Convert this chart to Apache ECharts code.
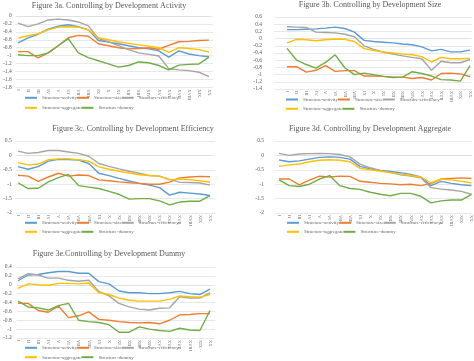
<!DOCTYPE html>
<html><head><meta charset="utf-8">
<script src="https://cdn.jsdelivr.net/npm/echarts@6/dist/echarts.min.js"></script>
<style>html,body{margin:0;padding:0;background:#fff}#c{width:474px;height:361px}</style>
</head><body><div id="c"></div>
<script>
const categories = ['I','II','III','IV','V','VI','VII','VIII','IX','X','XI','XII','XIII','XIV','XV','XVI','XVII','XVIII','XIX','XX'];
const seriesNames = ['Structure-activity','Structure-size','Structure-efficiency','Structure-aggregate','Structure-dummy'];
const titles = ['Figure 3a. Controlling by Development Activity','Figure 3b. Controlling by Development Size','Figure 3c. Controlling by Development Efficiency','Figure 3d. Controlling by Development Aggregate','Figure 3e.Controlling by Development Dummy'];
const yMin = [-1.8,-1.4,-2,-2,-1.2];
const yMax = [0,0.6,0.5,0.5,0.4];
const yStep = [0.2,0.2,0.5,0.5,0.2];

const aActivity = [-0.68,-0.55,-0.46,-0.33,-0.26,-0.22,-0.27,-0.35,-0.62,-0.66,-0.7,-0.75,-0.8,-0.83,-0.88,-1.04,-0.88,-0.96,-1.0,-1.03];
const aSize = [-0.9,-0.9,-1.06,-0.93,-0.75,-0.55,-0.49,-0.51,-0.7,-0.75,-0.8,-0.83,-0.82,-0.8,-0.84,-0.74,-0.65,-0.64,-0.62,-0.61];
const aEfficiency = [-0.18,-0.27,-0.2,-0.1,-0.08,-0.1,-0.15,-0.25,-0.57,-0.65,-0.75,-0.85,-0.93,-0.97,-1.01,-1.33,-1.36,-1.38,-1.42,-1.53];
const aAggregate = [-0.56,-0.5,-0.45,-0.35,-0.28,-0.27,-0.28,-0.35,-0.55,-0.6,-0.65,-0.69,-0.73,-0.76,-0.8,-0.92,-0.8,-0.82,-0.85,-0.91];
const aDummy = [-0.98,-1.0,-1.0,-0.93,-0.75,-0.57,-0.93,-1.05,-1.13,-1.21,-1.29,-1.25,-1.16,-1.18,-1.25,-1.36,-1.24,-1.22,-1.21,-1.04];

const bActivity = [0.25,0.25,0.26,0.27,0.29,0.32,0.28,0.18,-0.05,-0.08,-0.1,-0.12,-0.15,-0.17,-0.23,-0.34,-0.3,-0.37,-0.37,-0.32];
const bSize = [-0.78,-0.78,-0.93,-0.88,-0.75,-0.91,-0.89,-0.89,-1.04,-1.04,-1.05,-1.07,-1.07,-1.11,-1.08,-1.15,-0.97,-0.96,-0.98,-1.06];
const bEfficiency = [0.33,0.32,0.31,0.18,0.17,0.16,0.12,0.05,-0.2,-0.3,-0.38,-0.43,-0.48,-0.52,-0.56,-0.88,-0.63,-0.67,-0.67,-0.58];
const bAggregate = [-0.12,-0.02,-0.03,-0.06,-0.03,-0.01,-0.02,-0.08,-0.28,-0.33,-0.37,-0.4,-0.43,-0.45,-0.5,-0.65,-0.52,-0.56,-0.56,-0.55];
const bDummy = [-0.27,-0.6,-0.72,-0.82,-0.66,-0.45,-0.81,-1.0,-0.96,-1.0,-1.05,-1.08,-1.07,-0.92,-0.97,-1.04,-1.14,-1.15,-1.18,-0.75];

const cActivity = [-0.39,-0.48,-0.39,-0.2,-0.14,-0.14,-0.16,-0.28,-0.62,-0.7,-0.8,-0.89,-0.97,-1.03,-1.12,-1.38,-1.28,-1.31,-1.34,-1.39];
const cSize = [-0.69,-0.72,-0.9,-0.75,-0.62,-0.72,-0.68,-0.7,-0.85,-0.88,-0.92,-0.95,-0.97,-1.0,-1.0,-0.93,-0.78,-0.75,-0.73,-0.74];
const cEfficiency = [0.15,0.07,0.1,0.17,0.17,0.12,0.07,-0.03,-0.28,-0.38,-0.47,-0.55,-0.62,-0.7,-0.72,-0.83,-0.93,-0.94,-0.96,-1.03];
const cAggregate = [-0.25,-0.33,-0.3,-0.15,-0.12,-0.12,-0.15,-0.2,-0.4,-0.48,-0.55,-0.61,-0.67,-0.7,-0.72,-0.85,-0.82,-0.84,-0.88,-0.93];
const cDummy = [-0.95,-1.15,-1.14,-0.92,-0.77,-0.66,-1.05,-1.1,-1.15,-1.25,-1.35,-1.52,-1.5,-1.5,-1.58,-1.72,-1.62,-1.59,-1.59,-1.4];

const dActivity = [-0.16,-0.22,-0.19,-0.13,-0.07,-0.05,-0.07,-0.13,-0.38,-0.47,-0.52,-0.56,-0.6,-0.66,-0.75,-1.05,-0.9,-0.97,-1.02,-1.05];
const dSize = [-0.82,-0.82,-1.02,-0.86,-0.72,-0.75,-0.72,-0.73,-0.9,-0.93,-0.97,-0.99,-1.02,-1.0,-1.05,-0.98,-0.82,-0.8,-0.78,-0.8];
const dEfficiency = [0.07,0.0,0.05,0.06,0.07,0.06,0.03,-0.05,-0.3,-0.43,-0.52,-0.6,-0.67,-0.72,-0.78,-1.12,-1.17,-1.2,-1.25,-1.35];
const dAggregate = [-0.38,-0.33,-0.3,-0.22,-0.17,-0.15,-0.17,-0.22,-0.45,-0.5,-0.55,-0.6,-0.65,-0.7,-0.75,-0.95,-0.82,-0.85,-0.9,-0.95];
const dDummy = [-0.85,-1.05,-1.08,-1.0,-0.82,-0.7,-1.05,-1.15,-1.18,-1.28,-1.35,-1.4,-1.32,-1.32,-1.42,-1.65,-1.58,-1.55,-1.55,-1.35];

const eActivity = [0.09,0.22,0.23,0.27,0.3,0.3,0.26,0.26,0.07,0.02,-0.14,-0.18,-0.18,-0.2,-0.2,-0.18,-0.15,-0.2,-0.22,-0.1];
const eSize = [-0.42,-0.42,-0.58,-0.62,-0.48,-0.74,-0.7,-0.61,-0.78,-0.8,-0.83,-0.85,-0.86,-0.85,-0.88,-0.8,-0.68,-0.67,-0.65,-0.65];
const eEfficiency = [0.13,0.25,0.22,0.15,0.15,0.1,0.08,0.1,-0.15,-0.25,-0.42,-0.5,-0.55,-0.57,-0.53,-0.52,-0.27,-0.3,-0.3,-0.18];
const eAggregate = [-0.08,0.02,0.0,-0.01,0.03,0.03,0.02,0.04,-0.18,-0.22,-0.3,-0.35,-0.37,-0.37,-0.37,-0.33,-0.25,-0.27,-0.28,-0.22];
const eDummy = [-0.37,-0.5,-0.52,-0.57,-0.47,-0.42,-0.8,-0.83,-0.85,-0.9,-1.07,-1.07,-0.95,-1.0,-1.03,-1.05,-0.98,-1.02,-1.03,-0.58];

const panelData = [
  [aActivity,aSize,aEfficiency,aAggregate,aDummy],
  [bActivity,bSize,bEfficiency,bAggregate,bDummy],
  [cActivity,cSize,cEfficiency,cAggregate,cDummy],
  [dActivity,dSize,dEfficiency,dAggregate,dDummy],
  [eActivity,eSize,eEfficiency,eAggregate,eDummy]
];

// layout (pixels)
const colors = ['#5B9BD5','#ED7D31','#A5A5A5','#FFC000','#70AD47'];
const layout = [
  {bgL:13, bgW:200, dL:18, dW:191, top:16, h:71.3, lblM:4, tX:109, tY:7, lgX:25, lgY1:98.3, lgY2:108.3},
  {bgL:274, bgW:198, dL:287, dW:183, top:17, h:72, lblM:12, tX:370, tY:6, lgX:286, lgY1:100, lgY2:109.3},
  {bgL:13, bgW:202, dL:18, dW:192, top:141, h:72, lblM:4, tX:133, tY:130, lgX:25, lgY1:223.3, lgY2:232.3},
  {bgL:275, bgW:197, dL:279, dW:193, top:141, h:72, lblM:11, tX:370, tY:130, lgX:287, lgY1:223.3, lgY2:232.3},
  {bgL:13, bgW:202, dL:18, dW:192, top:267, h:71, lblM:5, tX:109, tY:255, lgX:25, lgY1:348.3, lgY2:357.7}
];
const FONT = 'Liberation Serif';
const TXT = '#595959';

const grid=[], xAxis=[], yAxis=[], series=[], title=[], legend=[];
layout.forEach((L,p)=>{
  grid.push({left:L.bgL, top:L.top, width:L.bgW, height:L.h});
  grid.push({left:L.dL, top:L.top, width:L.dW, height:L.h});
  xAxis.push({type:'value', gridIndex:2*p, min:0, max:1, show:false});
  xAxis.push({type:'category', gridIndex:2*p+1, data:categories, boundaryGap:false,
    axisLine:{show:true, onZero:true, lineStyle:{color:'#d9d9d9', width:0.6}},
    axisTick:{show:false},
    axisLabel:{interval:0, rotate:-90, fontSize:4.5, color:'#707070', fontFamily:FONT, margin:2}});
  yAxis.push({type:'value', gridIndex:2*p, min:yMin[p], max:yMax[p], interval:yStep[p],
    axisLine:{show:false}, axisTick:{show:false},
    splitLine:{show:true, lineStyle:{color:'#d9d9d9', width:0.6}},
    axisLabel:{fontSize:5.5, color:TXT, fontFamily:FONT, margin:L.lblM}});
  yAxis.push({type:'value', gridIndex:2*p+1, min:yMin[p], max:yMax[p], interval:yStep[p], show:false, splitLine:{show:false}});
  panelData[p].forEach((arr,k)=>{
    series.push({type:'line', name:seriesNames[k], xAxisIndex:2*p+1, yAxisIndex:2*p+1,
      data:arr, symbol:'none', lineStyle:{width:1.4, color:colors[k]}, itemStyle:{color:colors[k]}, z:2+k});
  });
  title.push({text:titles[p], left:L.tX, top:L.tY-5, textAlign:'center', padding:0,
    textStyle:{fontSize:8, fontWeight:'normal', color:TXT, fontFamily:FONT}});
  const lgBase = {orient:'horizontal', padding:0, itemGap:0, itemWidth:12, itemHeight:2, icon:'rect',
    textStyle:{fontSize:5, color:'#6a6a6a', fontFamily:FONT, width:40, overflow:'none'}};
  legend.push(Object.assign({}, lgBase, {left:L.lgX, top:L.lgY1-3, data:seriesNames.slice(0,3)}));
  legend.push(Object.assign({}, lgBase, {left:L.lgX, top:L.lgY2-3, data:seriesNames.slice(3)}));
});

const chart = echarts.init(document.getElementById('c'), null, {renderer:'canvas'});
chart.setOption({animation:false, backgroundColor:'#fff', grid, xAxis, yAxis, series, title, legend});
</script></body></html>
